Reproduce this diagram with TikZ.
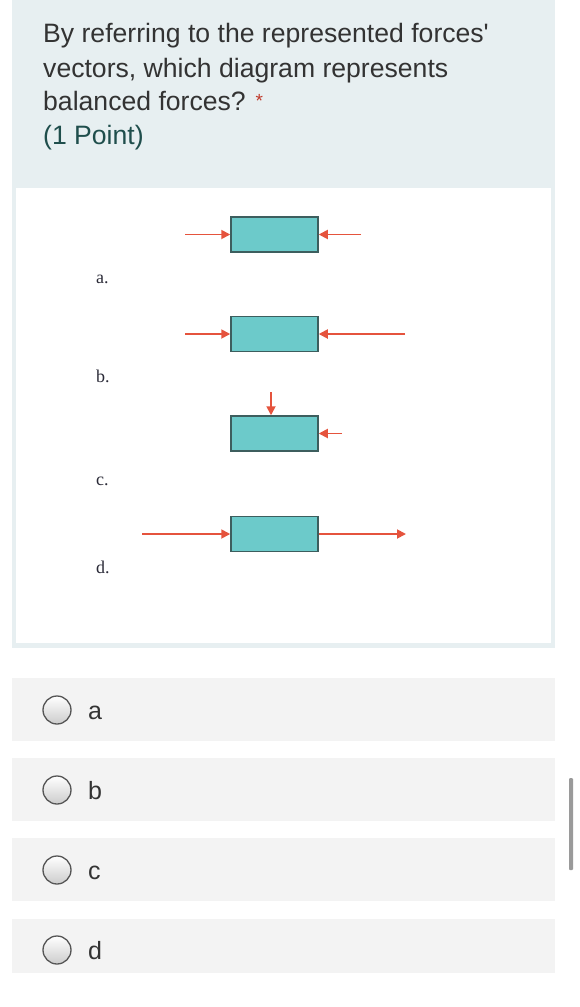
\documentclass[tikz,border=0pt]{standalone}
\usepackage{fontspec}
\setmainfont{Liberation Sans}
\newfontfamily\timesf{Liberation Serif}
\usetikzlibrary{arrows.meta}
\definecolor{panelbg}{HTML}{E7EFF1}
\definecolor{optbg}{HTML}{F3F3F3}
\definecolor{boxfill}{HTML}{6CCACA}
\definecolor{boxline}{HTML}{3D5E5E}
\definecolor{forcered}{HTML}{E5533D}
\definecolor{txtdark}{HTML}{333333}
\definecolor{lbldark}{HTML}{2B2B38}
\definecolor{pointcol}{HTML}{1F4E4C}
\definecolor{starred}{HTML}{C0392B}
\definecolor{radioline}{HTML}{555555}
\definecolor{scrollcol}{HTML}{9A9A9A}
\newcommand{\straightquote}{{\XeTeXglyph\XeTeXcharglyph"27\relax}}
\tikzset{
  massbox/.style={draw=boxline, line width=1.5pt, fill=boxfill, minimum width=87pt, minimum height=35pt, inner sep=0pt},
  force/.style={draw=forcered, line width=1.8pt, -{Triangle[length=9pt,width=9pt]}},
  qtext/.style={anchor=base west, inner sep=0pt, text=txtdark, font=\fontsize{26.6}{30}\selectfont},
  lbl/.style={anchor=base west, inner sep=0pt, text=lbldark, font=\timesf\fontsize{18}{20}\selectfont},
  opttext/.style={anchor=base west, inner sep=0pt, text=txtdark, font=\fontsize{25}{28}\selectfont},
  radio/.style={circle, draw=radioline, line width=1.3pt, top color=white, bottom color=black!20, minimum size=28pt, inner sep=0pt},
}
\begin{document}
\begin{tikzpicture}[x=1pt, y=-1pt]
\useasboundingbox (0,0) rectangle (579,1007);
\fill[white] (0,0) rectangle (579,1007);
% question panel
\fill[panelbg] (12,0) rectangle (555,648);
\fill[white] (16,188) rectangle (551,643);
\node[qtext] (q1) at (43,42) {By referring to the represented forces\straightquote};
\node[qtext] (q2) at (43,77) {vectors, which diagram represents};
\node[qtext] (q3) at (43,110) {balanced forces? \raisebox{3pt}{\color{starred}\fontsize{19}{20}\selectfont*}};
\node[qtext, text=pointcol] (q4) at (43,144) {(1 Point)};
% diagram labels
\node[lbl] (la) at (96,283) {a.};
\node[lbl] (lb) at (96,382) {b.};
\node[lbl] (lc) at (96,485) {c.};
\node[lbl] (ld) at (96,573) {d.};
% boxes
\node[massbox] (ba) at (274.5,234.5) {};
\node[massbox] (bb) at (274.5,334) {};
\node[massbox] (bc) at (274.5,433.5) {};
\node[massbox] (bd) at (274.5,534) {};
% force endpoints
\coordinate (a1) at (185,234.5);
\coordinate (a2) at (361,234.5);
\coordinate (b1) at (185,334);
\coordinate (b2) at (405,334);
\coordinate (c1) at (271,392);
\coordinate (c2) at (342,433.5);
\coordinate (d1) at (142,534);
\coordinate (d2) at (406,534);
% forces
\draw[force] (a1) -- (ba.west);
\draw[force] (a2) -- (ba.east);
\draw[force] (b1) -- (bb.west);
\draw[force] (b2) -- (bb.east);
\draw[force] (c1) -- (c1 |- bc.north);
\draw[force] (c2) -- (bc.east);
\draw[force] (d1) -- (bd.west);
\draw[force] (bd.east) -- (d2);
% options
\fill[optbg] (12,678) rectangle (555,741);
\fill[optbg] (12,758) rectangle (555,821);
\fill[optbg] (12,838) rectangle (555,901);
\fill[optbg] (12,919) rectangle (555,973);
\node[radio] (ra) at (57,710) {};
\node[radio] (rb) at (57,790) {};
\node[radio] (rc) at (57,870) {};
\node[radio] (rd) at (57,950) {};
\node[opttext] (oa) at (88,719) {a};
\node[opttext] (ob) at (88,799) {b};
\node[opttext] (oc) at (88,879) {c};
\node[opttext] (od) at (88,959) {d};
% scrollbar
\fill[scrollcol, rounded corners=1pt] (569,778) rectangle (573,870);
\end{tikzpicture}
\end{document}
